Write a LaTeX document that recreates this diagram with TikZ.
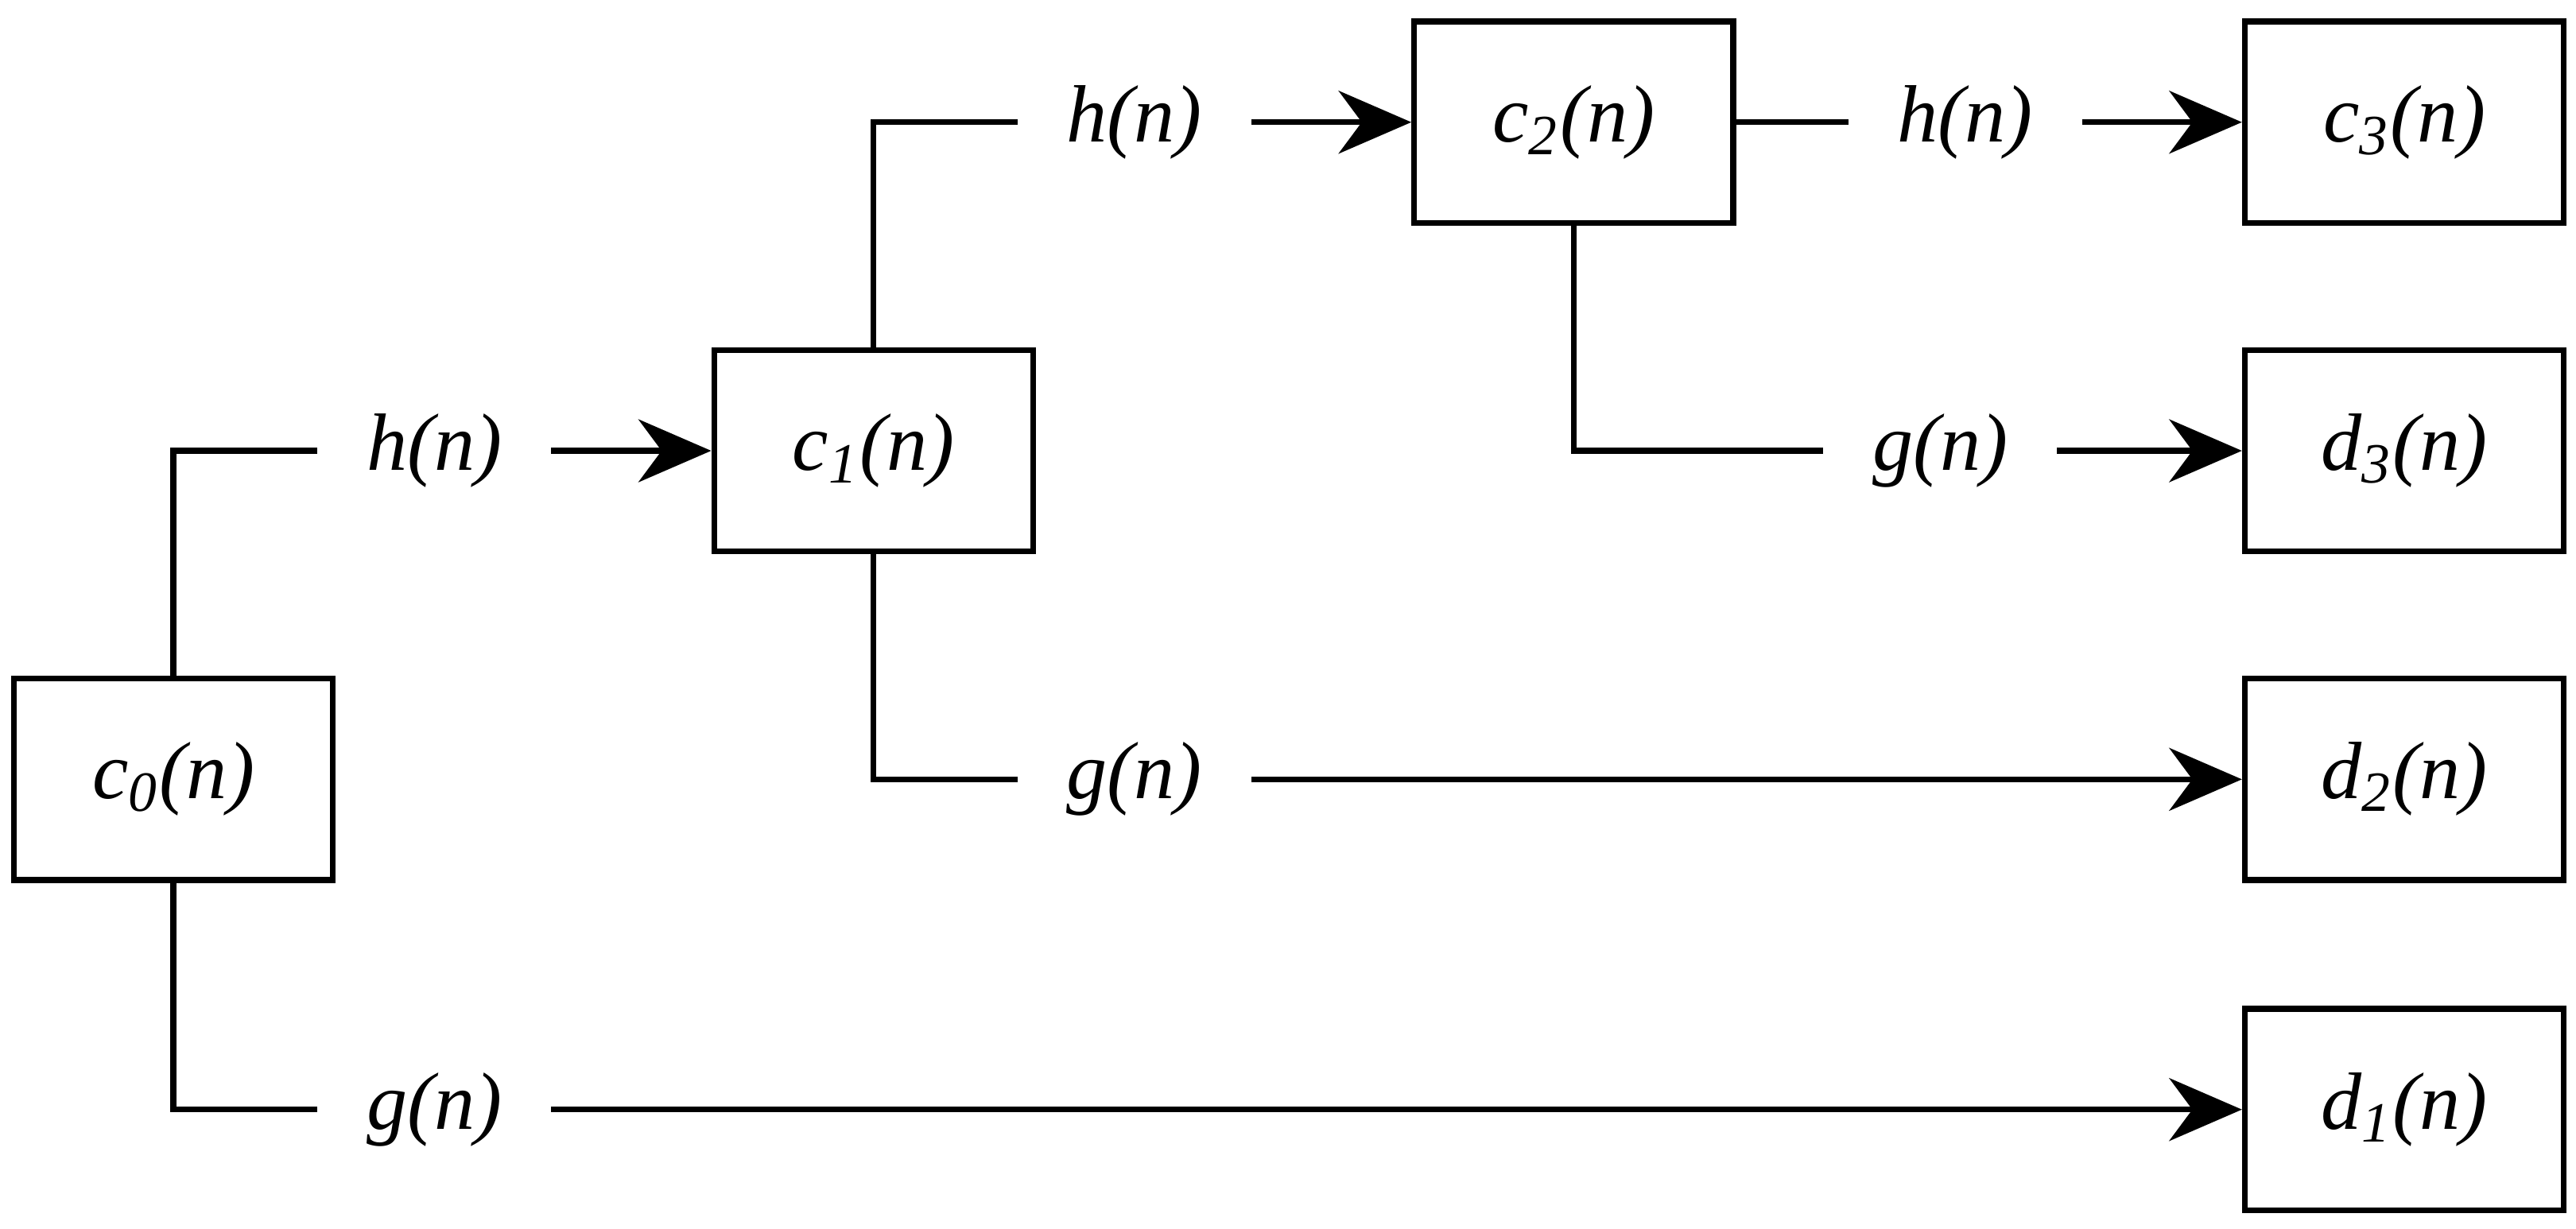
\documentclass[tikz,border=0pt]{standalone}
\usepackage{fontspec}
\setmainfont{Liberation Serif}
\usetikzlibrary{arrows.meta}

\begin{document}
\begin{tikzpicture}[x=0.01cm,y=-0.01cm,line width=1pt,
  box/.style={draw,minimum width=1.93cm,minimum height=1.22cm,font=\fontsize{14}{17}\selectfont\itshape},
  lab/.style={inner sep=0.28cm,font=\fontsize{14}{17}\selectfont\itshape},
  arr/.style={-{Stealth[length=0.44cm,width=0.38cm,inset=0.14cm]}}]
\useasboundingbox (0,0) rectangle (1560,744);
%%%% boxes
\node[box] (c0) at (105,472) {c\textsubscript{0}(n)};
\node[box] (c1) at (529,273) {c\textsubscript{1}(n)};
\node[box] (c2) at (953,74) {c\textsubscript{2}(n)};
\node[box] (c3) at (1456,74) {c\textsubscript{3}(n)};
\node[box] (d3) at (1456,273) {d\textsubscript{3}(n)};
\node[box] (d2) at (1456,472) {d\textsubscript{2}(n)};
\node[box] (d1) at (1456,672) {d\textsubscript{1}(n)};
%%%% filter labels
\node[lab] (h0) at (263,273) {h(n)};
\node[lab] (g0) at (263,672) {g(n)};
\node[lab] (h1) at (687,74) {h(n)};
\node[lab] (g1) at (687,472) {g(n)};
\node[lab] (h2) at (1190,74) {h(n)};
\node[lab] (g2) at (1175,273) {g(n)};
%%%% connectors
\draw (c0.north) |- (h0.west);
\draw (c0.south) |- (g0.west);
\draw (c1.north) |- (h1.west);
\draw (c1.south) |- (g1.west);
\draw (c2.east) -- (h2.west);
\draw (c2.south) |- (g2.west);
\draw[arr] (h0.east) -- (c1.west);
\draw[arr] (g0.east) -- (d1.west);
\draw[arr] (h1.east) -- (c2.west);
\draw[arr] (g1.east) -- (d2.west);
\draw[arr] (h2.east) -- (c3.west);
\draw[arr] (g2.east) -- (d3.west);
\end{tikzpicture}
\end{document}
